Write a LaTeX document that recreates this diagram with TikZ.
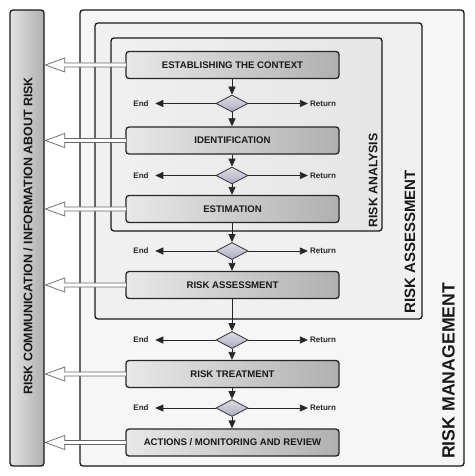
\documentclass[tikz,border=0pt]{standalone}
\usepackage{fontspec}
\setmainfont{Liberation Sans}
\usetikzlibrary{arrows.meta,shapes.geometric,calc}
\begin{document}
\begin{tikzpicture}[x=1pt,y=-1pt,
  container/.style={draw=black!90,line width=1.3pt,rounded corners=3pt},
  procbox/.style={draw=black!85,line width=1.3pt,rounded corners=3pt,
    left color=gray!18,right color=gray!62,minimum width=213pt,minimum height=27pt,
    inner sep=0pt,font=\bfseries\fontsize{9.6}{11}\selectfont,text=black!90},
  decision/.style={diamond,draw=black!80,line width=0.8pt,
    top color=blue!8!gray!25,bottom color=blue!18!gray!55,
    minimum width=32pt,minimum height=17pt,inner sep=0pt},
  flow/.style={draw=black!85,line width=0.8pt,-{Triangle[length=8pt,width=7pt]}},
  sidelabel/.style={inner sep=0pt,font=\bfseries\fontsize{8}{9}\selectfont,text=black!85},
  hollow/.style={draw=black!60,fill=white,line width=0.7pt,line join=miter},
  biglabel/.style={inner sep=0pt,rotate=90,anchor=west,text depth=0pt,text=black!90},
  bar/.style={draw=black!90,line width=1.3pt,rounded corners=3pt,
    left color=gray!22,right color=gray!62,minimum width=34pt,minimum height=456pt,inner sep=0pt}
]
\useasboundingbox (0,0) rectangle (474,476);
\fill[white] (0,0) rectangle (474,476);

% containers
\draw[container,fill=gray!7] (80,10) rectangle (464,466);
\draw[container,fill=gray!12] (95,23) rectangle (422,319);
\draw[container,left color=gray!12,right color=gray!20] (111,38) rectangle (382,231);

% communication bar
\node[bar] (bar) at (27,238) {};
\node[inner sep=0pt,rotate=90,text depth=0pt,font=\bfseries\fontsize{12.4}{14}\selectfont,text=black!90] (barlabel) at (28,236) {RISK COMMUNICATION / INFORMATION ABOUT RISK};

% container labels
\node[biglabel,font=\bfseries\fontsize{12.3}{14}\selectfont] (lblan) at (373,227.5) {RISK ANALYSIS};
\node[biglabel,font=\bfseries\fontsize{15}{17}\selectfont] (lblas) at (410,314) {RISK ASSESSMENT};
\node[biglabel,font=\bfseries\fontsize{17.7}{20}\selectfont] (lblrm) at (448.5,459) {RISK MANAGEMENT};

% process boxes
\node[procbox] (b1) at (232.5,65) {ESTABLISHING THE CONTEXT};
\node[procbox] (b2) at (232.5,140.5) {IDENTIFICATION};
\node[procbox] (b3) at (232.5,209) {ESTIMATION};
\node[procbox] (b4) at (232.5,285) {RISK ASSESSMENT};
\node[procbox] (b5) at (232.5,374) {RISK TREATMENT};
\node[procbox] (b6) at (232.5,442.5) {ACTIONS / MONITORING AND REVIEW};

% decisions
\foreach \i/\y in {1/103.5,2/175.5,3/251,4/340,5/408}{
  \node[decision] (d\i) at (232,\y) {};
  \node[sidelabel] (e\i) at (141,\y) {End};
  \node[sidelabel] (r\i) at (323,\y) {Return};
  \draw[flow,shorten >=6.5pt] (d\i.west) -- (e\i.east);
  \draw[flow,shorten >=2pt] (d\i.east) -- (r\i.west);
}

% vertical flow
\draw[flow] (b1.south -| d1.north) -- (d1.north);
\draw[flow] (d1.south) -- (b2.north -| d1.south);
\draw[flow] (b2.south -| d2.north) -- (d2.north);
\draw[flow] (d2.south) -- (b3.north -| d2.south);
\draw[flow] (b3.south -| d3.north) -- (d3.north);
\draw[flow] (d3.south) -- (b4.north -| d3.south);
\draw[flow] (b4.south -| d4.north) -- (d4.north);
\draw[flow] (d4.south) -- (b5.north -| d4.south);
\draw[flow] (b5.south -| d5.north) -- (d5.north);
\draw[flow] (d5.south) -- (b6.north -| d5.south);

% hollow arrows to communication bar
\foreach \b in {b1,b2,b3,b4,b5,b6}{
  \draw[hollow] ($(\b.west)+(0.6,-2)$) -- ($(bar.east |- \b.west)+(20,-2)$) -- ++(0,-5)
    -- ($(bar.east |- \b.west)+(0.8,0)$) -- ++(19.2,7) -- ++(0,-5) -- ($(\b.west)+(0.6,2)$);
}
\end{tikzpicture}
\end{document}
